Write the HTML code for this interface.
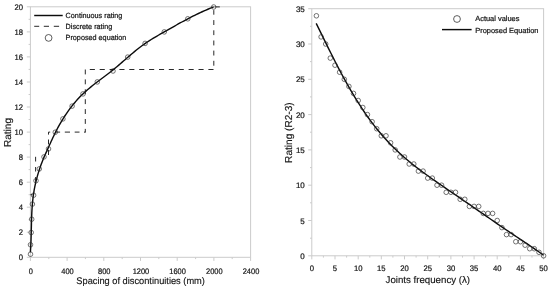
<!DOCTYPE html>
<html><head><meta charset="utf-8"><title>Rating charts</title>
<style>html,body{margin:0;padding:0;background:#fff}body{width:550px;height:290px;overflow:hidden}</style></head>
<body>
<svg width="550" height="290" viewBox="0 0 550 290" style="display:block">
<rect width="550" height="290" fill="#fff"/>
<g font-family="'Liberation Sans', sans-serif" fill="#161616" text-rendering="geometricPrecision">
<rect x="30.4" y="6.8" width="220.2" height="250.5" fill="none" stroke="#cbcbcb" stroke-width="1.0"/>
<line x1="30.4" y1="257.3" x2="30.4" y2="260.9" stroke="#cbcbcb" stroke-width="1.0"/>
<text transform="translate(30.8,274.1) scale(0.93,1)" font-size="8" text-anchor="middle" stroke="#161616" stroke-width="0.22">0</text>
<line x1="48.8" y1="257.3" x2="48.8" y2="259.1" stroke="#cbcbcb" stroke-width="1.0"/>
<line x1="67.1" y1="257.3" x2="67.1" y2="260.9" stroke="#cbcbcb" stroke-width="1.0"/>
<text transform="translate(67.5,274.1) scale(0.93,1)" font-size="8" text-anchor="middle" stroke="#161616" stroke-width="0.22">400</text>
<line x1="85.4" y1="257.3" x2="85.4" y2="259.1" stroke="#cbcbcb" stroke-width="1.0"/>
<line x1="103.8" y1="257.3" x2="103.8" y2="260.9" stroke="#cbcbcb" stroke-width="1.0"/>
<text transform="translate(104.2,274.1) scale(0.93,1)" font-size="8" text-anchor="middle" stroke="#161616" stroke-width="0.22">800</text>
<line x1="122.2" y1="257.3" x2="122.2" y2="259.1" stroke="#cbcbcb" stroke-width="1.0"/>
<line x1="140.5" y1="257.3" x2="140.5" y2="260.9" stroke="#cbcbcb" stroke-width="1.0"/>
<text transform="translate(140.9,274.1) scale(0.93,1)" font-size="8" text-anchor="middle" stroke="#161616" stroke-width="0.22">1200</text>
<line x1="158.8" y1="257.3" x2="158.8" y2="259.1" stroke="#cbcbcb" stroke-width="1.0"/>
<line x1="177.2" y1="257.3" x2="177.2" y2="260.9" stroke="#cbcbcb" stroke-width="1.0"/>
<text transform="translate(177.6,274.1) scale(0.93,1)" font-size="8" text-anchor="middle" stroke="#161616" stroke-width="0.22">1600</text>
<line x1="195.6" y1="257.3" x2="195.6" y2="259.1" stroke="#cbcbcb" stroke-width="1.0"/>
<line x1="213.9" y1="257.3" x2="213.9" y2="260.9" stroke="#cbcbcb" stroke-width="1.0"/>
<text transform="translate(214.3,274.1) scale(0.93,1)" font-size="8" text-anchor="middle" stroke="#161616" stroke-width="0.22">2000</text>
<line x1="232.2" y1="257.3" x2="232.2" y2="259.1" stroke="#cbcbcb" stroke-width="1.0"/>
<line x1="250.6" y1="257.3" x2="250.6" y2="260.9" stroke="#cbcbcb" stroke-width="1.0"/>
<text transform="translate(251.0,274.1) scale(0.93,1)" font-size="8" text-anchor="middle" stroke="#161616" stroke-width="0.22">2400</text>
<line x1="30.4" y1="257.3" x2="26.8" y2="257.3" stroke="#cbcbcb" stroke-width="1.0"/>
<text transform="translate(23.1,260.2) scale(0.955,1)" font-size="8" text-anchor="end" stroke="#161616" stroke-width="0.22">0</text>
<line x1="30.4" y1="244.8" x2="28.6" y2="244.8" stroke="#cbcbcb" stroke-width="1.0"/>
<line x1="30.4" y1="232.2" x2="26.8" y2="232.2" stroke="#cbcbcb" stroke-width="1.0"/>
<text transform="translate(23.1,235.2) scale(0.955,1)" font-size="8" text-anchor="end" stroke="#161616" stroke-width="0.22">2</text>
<line x1="30.4" y1="219.7" x2="28.6" y2="219.7" stroke="#cbcbcb" stroke-width="1.0"/>
<line x1="30.4" y1="207.2" x2="26.8" y2="207.2" stroke="#cbcbcb" stroke-width="1.0"/>
<text transform="translate(23.1,210.1) scale(0.955,1)" font-size="8" text-anchor="end" stroke="#161616" stroke-width="0.22">4</text>
<line x1="30.4" y1="194.7" x2="28.6" y2="194.7" stroke="#cbcbcb" stroke-width="1.0"/>
<line x1="30.4" y1="182.2" x2="26.8" y2="182.2" stroke="#cbcbcb" stroke-width="1.0"/>
<text transform="translate(23.1,185.1) scale(0.955,1)" font-size="8" text-anchor="end" stroke="#161616" stroke-width="0.22">6</text>
<line x1="30.4" y1="169.6" x2="28.6" y2="169.6" stroke="#cbcbcb" stroke-width="1.0"/>
<line x1="30.4" y1="157.1" x2="26.8" y2="157.1" stroke="#cbcbcb" stroke-width="1.0"/>
<text transform="translate(23.1,160.0) scale(0.955,1)" font-size="8" text-anchor="end" stroke="#161616" stroke-width="0.22">8</text>
<line x1="30.4" y1="144.6" x2="28.6" y2="144.6" stroke="#cbcbcb" stroke-width="1.0"/>
<line x1="30.4" y1="132.1" x2="26.8" y2="132.1" stroke="#cbcbcb" stroke-width="1.0"/>
<text transform="translate(23.1,135.0) scale(0.955,1)" font-size="8" text-anchor="end" stroke="#161616" stroke-width="0.22">10</text>
<line x1="30.4" y1="119.5" x2="28.6" y2="119.5" stroke="#cbcbcb" stroke-width="1.0"/>
<line x1="30.4" y1="107.0" x2="26.8" y2="107.0" stroke="#cbcbcb" stroke-width="1.0"/>
<text transform="translate(23.1,109.9) scale(0.955,1)" font-size="8" text-anchor="end" stroke="#161616" stroke-width="0.22">12</text>
<line x1="30.4" y1="94.5" x2="28.6" y2="94.5" stroke="#cbcbcb" stroke-width="1.0"/>
<line x1="30.4" y1="82.0" x2="26.8" y2="82.0" stroke="#cbcbcb" stroke-width="1.0"/>
<text transform="translate(23.1,84.9) scale(0.955,1)" font-size="8" text-anchor="end" stroke="#161616" stroke-width="0.22">14</text>
<line x1="30.4" y1="69.4" x2="28.6" y2="69.4" stroke="#cbcbcb" stroke-width="1.0"/>
<line x1="30.4" y1="56.9" x2="26.8" y2="56.9" stroke="#cbcbcb" stroke-width="1.0"/>
<text transform="translate(23.1,59.8) scale(0.955,1)" font-size="8" text-anchor="end" stroke="#161616" stroke-width="0.22">16</text>
<line x1="30.4" y1="44.4" x2="28.6" y2="44.4" stroke="#cbcbcb" stroke-width="1.0"/>
<line x1="30.4" y1="31.9" x2="26.8" y2="31.9" stroke="#cbcbcb" stroke-width="1.0"/>
<text transform="translate(23.1,34.8) scale(0.955,1)" font-size="8" text-anchor="end" stroke="#161616" stroke-width="0.22">18</text>
<line x1="30.4" y1="19.3" x2="28.6" y2="19.3" stroke="#cbcbcb" stroke-width="1.0"/>
<line x1="30.4" y1="6.8" x2="26.8" y2="6.8" stroke="#cbcbcb" stroke-width="1.0"/>
<text transform="translate(23.1,9.7) scale(0.955,1)" font-size="8" text-anchor="end" stroke="#161616" stroke-width="0.22">20</text>
<text transform="translate(140.6,283.9) scale(0.955,1)" font-size="9.7" text-anchor="middle" stroke="#161616" stroke-width="0.15">Spacing of discontinuities (mm)</text>
<text transform="translate(11.0,132.5) rotate(-90)" font-size="10.1" text-anchor="middle" stroke="#161616" stroke-width="0.15">Rating</text>
<path d="M213.8,10.1L213.8,14.7 M213.8,20.1L213.8,25.0 M213.8,30.3L213.8,35.1 M213.8,40.5L213.8,45.4 M213.8,50.6L213.8,55.5 M213.8,60.8L213.8,65.7 M89.8,69.5L94.9,69.5 M99.7,69.5L104.8,69.5 M109.6,69.5L114.7,69.5 M119.4,69.5L124.5,69.5 M129.3,69.5L134.4,69.5 M139.2,69.5L144.3,69.5 M149.1,69.5L154.2,69.5 M159.0,69.5L164.1,69.5 M168.8,69.5L173.9,69.5 M178.7,69.5L183.8,69.5 M188.6,69.5L193.7,69.5 M198.5,69.5L203.6,69.5 M208.4,69.5L213.5,69.5 M85.3,69.5L85.3,74.4 M85.3,79.4L85.3,84.3 M85.3,89.3L85.3,94.2 M85.3,99.2L85.3,104.1 M85.3,109.1L85.3,114.0 M85.3,119.0L85.3,123.9 M85.3,128.9L85.3,132.5 M84.0,132.1L85.3,132.1 M74.7,132.1L79.5,132.1 M64.8,132.1L70.0,132.1 M55.0,132.1L60.1,132.1 M48.5,132.1L50.2,132.1 M48.5,132.1L48.5,134.6 M48.5,139.5L48.5,144.4 M48.5,150.0L48.5,155.0 M35.6,156.8L35.6,161.5 M35.6,167.0L35.6,171.5 M35.6,177.0L35.6,181.5 M30.4,194.7L32.6,194.7 M214.6,6.9L219.8,6.9" fill="none" stroke="#1e1e1e" stroke-width="0.95"/>
<path d="M30.40,252.27 L30.51,250.22 L30.64,248.17 L30.76,246.11 L30.86,244.05 L30.95,241.98 L31.03,239.91 L31.09,237.84 L31.15,235.77 L31.21,233.69 L31.26,231.62 L31.30,229.54 L31.35,227.46 L31.40,225.38 L31.45,223.30 L31.50,221.22 L31.57,219.14 L31.64,217.06 L31.72,214.98 L31.81,212.90 L31.92,210.83 L32.04,208.76 L32.18,206.68 L32.34,204.62 L32.52,202.55 L32.73,200.49 L32.96,198.43 L33.21,196.38 L33.50,194.33 L33.81,192.28 L34.15,190.24 L34.53,188.21 L34.93,186.18 L35.36,184.16 L35.82,182.14 L36.31,180.13 L36.83,178.13 L37.37,176.13 L37.94,174.14 L38.54,172.16 L39.16,170.19 L39.82,168.23 L40.50,166.27 L41.20,164.33 L41.93,162.39 L42.69,160.46 L43.47,158.55 L44.27,156.64 L45.10,154.74 L45.95,152.85 L46.81,150.97 L47.67,149.09 L48.52,147.21 L49.38,145.32 L50.23,143.44 L51.09,141.56 L51.95,139.69 L52.83,137.81 L53.71,135.95 L54.61,134.08 L55.53,132.23 L56.47,130.38 L57.43,128.54 L58.42,126.71 L59.43,124.90 L60.45,123.09 L61.51,121.30 L62.58,119.52 L63.68,117.75 L64.81,116.00 L65.95,114.27 L67.12,112.55 L68.32,110.85 L69.54,109.17 L70.79,107.51 L72.06,105.88 L73.35,104.26 L74.68,102.67 L76.03,101.10 L77.40,99.56 L78.80,98.04 L80.23,96.55 L81.69,95.08 L83.17,93.65 L84.69,92.24 L86.22,90.86 L87.78,89.51 L89.36,88.17 L90.96,86.86 L92.58,85.56 L94.20,84.28 L95.84,83.01 L97.49,81.75 L99.15,80.49 L100.81,79.24 L102.47,78.00 L104.14,76.75 L105.80,75.49 L107.45,74.23 L109.10,72.97 L110.74,71.69 L112.37,70.40 L113.99,69.10 L115.59,67.78 L117.18,66.44 L118.76,65.10 L120.34,63.75 L121.91,62.40 L123.47,61.04 L125.04,59.68 L126.60,58.32 L128.16,56.97 L129.73,55.62 L131.31,54.28 L132.89,52.94 L134.48,51.62 L136.08,50.31 L137.69,49.02 L139.32,47.75 L140.96,46.50 L142.62,45.27 L144.30,44.07 L146.00,42.89 L147.73,41.74 L149.47,40.61 L151.22,39.51 L153.00,38.42 L154.78,37.35 L156.57,36.29 L158.37,35.25 L160.18,34.21 L161.99,33.18 L163.80,32.15 L165.61,31.12 L167.42,30.09 L169.22,29.07 L171.03,28.05 L172.83,27.03 L174.64,26.01 L176.45,25.00 L178.26,23.99 L180.07,22.99 L181.89,22.00 L183.71,21.01 L185.53,20.03 L187.36,19.06 L189.19,18.10 L191.03,17.16 L192.87,16.22 L194.72,15.29 L196.58,14.38 L198.44,13.49 L200.31,12.60 L202.19,11.74 L204.09,10.88 L205.99,10.05 L207.90,9.23 L209.82,8.43 L211.75,7.66 L213.70,6.90" fill="none" stroke="#0c0c0c" stroke-width="1.42" stroke-linejoin="round" stroke-linecap="butt"/>
<circle cx="30.5" cy="254.2" r="2.3" fill="none" stroke="#2a2a2a" stroke-width="0.65"/>
<circle cx="30.5" cy="244.8" r="2.3" fill="none" stroke="#2a2a2a" stroke-width="0.65"/>
<circle cx="31.2" cy="232.5" r="2.3" fill="none" stroke="#2a2a2a" stroke-width="0.65"/>
<circle cx="31.7" cy="219.2" r="2.3" fill="none" stroke="#2a2a2a" stroke-width="0.65"/>
<circle cx="32.4" cy="204.1" r="2.3" fill="none" stroke="#2a2a2a" stroke-width="0.65"/>
<circle cx="33.6" cy="195.2" r="2.3" fill="none" stroke="#2a2a2a" stroke-width="0.65"/>
<circle cx="36.0" cy="180.7" r="2.3" fill="none" stroke="#2a2a2a" stroke-width="0.65"/>
<circle cx="39.3" cy="168.9" r="2.3" fill="none" stroke="#2a2a2a" stroke-width="0.65"/>
<circle cx="44.0" cy="156.9" r="2.3" fill="none" stroke="#2a2a2a" stroke-width="0.65"/>
<circle cx="48.5" cy="148.9" r="2.3" fill="none" stroke="#2a2a2a" stroke-width="0.65"/>
<circle cx="55.3" cy="132.2" r="2.3" fill="none" stroke="#2a2a2a" stroke-width="0.65"/>
<circle cx="62.9" cy="118.9" r="2.3" fill="none" stroke="#2a2a2a" stroke-width="0.65"/>
<circle cx="72.1" cy="106.1" r="2.3" fill="none" stroke="#2a2a2a" stroke-width="0.65"/>
<circle cx="83.0" cy="93.9" r="2.3" fill="none" stroke="#2a2a2a" stroke-width="0.65"/>
<circle cx="97.3" cy="81.9" r="2.3" fill="none" stroke="#2a2a2a" stroke-width="0.65"/>
<circle cx="113.0" cy="71.0" r="2.3" fill="none" stroke="#2a2a2a" stroke-width="0.65"/>
<circle cx="127.7" cy="57.1" r="2.3" fill="none" stroke="#2a2a2a" stroke-width="0.65"/>
<circle cx="145.1" cy="43.4" r="2.3" fill="none" stroke="#2a2a2a" stroke-width="0.65"/>
<circle cx="164.3" cy="31.9" r="2.3" fill="none" stroke="#2a2a2a" stroke-width="0.65"/>
<circle cx="187.8" cy="18.8" r="2.3" fill="none" stroke="#2a2a2a" stroke-width="0.65"/>
<circle cx="213.7" cy="7.0" r="2.3" fill="none" stroke="#2a2a2a" stroke-width="0.65"/>
<line x1="34.2" y1="15.5" x2="62.7" y2="15.5" stroke="#0c0c0c" stroke-width="1.45"/>
<path d="M34.2,26.3H39.2M43.8,26.3H49M53.8,26.3H59.1" fill="none" stroke="#1e1e1e" stroke-width="0.95"/>
<circle cx="48.6" cy="37.9" r="3.4" fill="none" stroke="#2a2a2a" stroke-width="0.75"/>
<text transform="translate(65.6,18.2) scale(0.965,1)" font-size="7.5" text-anchor="start" stroke="#161616" stroke-width="0.22">Continuous rating</text>
<text transform="translate(65.6,29.0) scale(0.965,1)" font-size="7.5" text-anchor="start" stroke="#161616" stroke-width="0.22">Discrete rating</text>
<text transform="translate(65.6,40.4) scale(0.965,1)" font-size="7.5" text-anchor="start" stroke="#161616" stroke-width="0.22">Proposed equation</text>
<rect x="311.8" y="8.7" width="231.8" height="247.1" fill="none" stroke="#cbcbcb" stroke-width="1.0"/>
<line x1="311.8" y1="255.8" x2="311.8" y2="259.4" stroke="#cbcbcb" stroke-width="1.0"/>
<text transform="translate(311.8,271.4) scale(0.96,1)" font-size="8" text-anchor="middle" stroke="#161616" stroke-width="0.22">0</text>
<line x1="323.4" y1="255.8" x2="323.4" y2="257.6" stroke="#cbcbcb" stroke-width="1.0"/>
<line x1="335.0" y1="255.8" x2="335.0" y2="259.4" stroke="#cbcbcb" stroke-width="1.0"/>
<text transform="translate(335.0,271.4) scale(0.96,1)" font-size="8" text-anchor="middle" stroke="#161616" stroke-width="0.22">5</text>
<line x1="346.6" y1="255.8" x2="346.6" y2="257.6" stroke="#cbcbcb" stroke-width="1.0"/>
<line x1="358.2" y1="255.8" x2="358.2" y2="259.4" stroke="#cbcbcb" stroke-width="1.0"/>
<text transform="translate(358.2,271.4) scale(0.96,1)" font-size="8" text-anchor="middle" stroke="#161616" stroke-width="0.22">10</text>
<line x1="369.8" y1="255.8" x2="369.8" y2="257.6" stroke="#cbcbcb" stroke-width="1.0"/>
<line x1="381.3" y1="255.8" x2="381.3" y2="259.4" stroke="#cbcbcb" stroke-width="1.0"/>
<text transform="translate(381.3,271.4) scale(0.96,1)" font-size="8" text-anchor="middle" stroke="#161616" stroke-width="0.22">15</text>
<line x1="392.9" y1="255.8" x2="392.9" y2="257.6" stroke="#cbcbcb" stroke-width="1.0"/>
<line x1="404.5" y1="255.8" x2="404.5" y2="259.4" stroke="#cbcbcb" stroke-width="1.0"/>
<text transform="translate(404.5,271.4) scale(0.96,1)" font-size="8" text-anchor="middle" stroke="#161616" stroke-width="0.22">20</text>
<line x1="416.1" y1="255.8" x2="416.1" y2="257.6" stroke="#cbcbcb" stroke-width="1.0"/>
<line x1="427.7" y1="255.8" x2="427.7" y2="259.4" stroke="#cbcbcb" stroke-width="1.0"/>
<text transform="translate(427.7,271.4) scale(0.96,1)" font-size="8" text-anchor="middle" stroke="#161616" stroke-width="0.22">25</text>
<line x1="439.3" y1="255.8" x2="439.3" y2="257.6" stroke="#cbcbcb" stroke-width="1.0"/>
<line x1="450.9" y1="255.8" x2="450.9" y2="259.4" stroke="#cbcbcb" stroke-width="1.0"/>
<text transform="translate(450.9,271.4) scale(0.96,1)" font-size="8" text-anchor="middle" stroke="#161616" stroke-width="0.22">30</text>
<line x1="462.5" y1="255.8" x2="462.5" y2="257.6" stroke="#cbcbcb" stroke-width="1.0"/>
<line x1="474.1" y1="255.8" x2="474.1" y2="259.4" stroke="#cbcbcb" stroke-width="1.0"/>
<text transform="translate(474.1,271.4) scale(0.96,1)" font-size="8" text-anchor="middle" stroke="#161616" stroke-width="0.22">35</text>
<line x1="485.6" y1="255.8" x2="485.6" y2="257.6" stroke="#cbcbcb" stroke-width="1.0"/>
<line x1="497.2" y1="255.8" x2="497.2" y2="259.4" stroke="#cbcbcb" stroke-width="1.0"/>
<text transform="translate(497.2,271.4) scale(0.96,1)" font-size="8" text-anchor="middle" stroke="#161616" stroke-width="0.22">40</text>
<line x1="508.8" y1="255.8" x2="508.8" y2="257.6" stroke="#cbcbcb" stroke-width="1.0"/>
<line x1="520.4" y1="255.8" x2="520.4" y2="259.4" stroke="#cbcbcb" stroke-width="1.0"/>
<text transform="translate(520.4,271.4) scale(0.96,1)" font-size="8" text-anchor="middle" stroke="#161616" stroke-width="0.22">45</text>
<line x1="532.0" y1="255.8" x2="532.0" y2="257.6" stroke="#cbcbcb" stroke-width="1.0"/>
<line x1="543.6" y1="255.8" x2="543.6" y2="259.4" stroke="#cbcbcb" stroke-width="1.0"/>
<text transform="translate(543.6,271.4) scale(0.96,1)" font-size="8" text-anchor="middle" stroke="#161616" stroke-width="0.22">50</text>
<line x1="311.8" y1="255.8" x2="308.2" y2="255.8" stroke="#cbcbcb" stroke-width="1.0"/>
<text transform="translate(304.8,258.8)" font-size="8" text-anchor="end" stroke="#161616" stroke-width="0.22">0</text>
<line x1="311.8" y1="238.2" x2="310.0" y2="238.2" stroke="#cbcbcb" stroke-width="1.0"/>
<line x1="311.8" y1="220.5" x2="308.2" y2="220.5" stroke="#cbcbcb" stroke-width="1.0"/>
<text transform="translate(304.8,223.5)" font-size="8" text-anchor="end" stroke="#161616" stroke-width="0.22">5</text>
<line x1="311.8" y1="202.8" x2="310.0" y2="202.8" stroke="#cbcbcb" stroke-width="1.0"/>
<line x1="311.8" y1="185.2" x2="308.2" y2="185.2" stroke="#cbcbcb" stroke-width="1.0"/>
<text transform="translate(304.8,188.2)" font-size="8" text-anchor="end" stroke="#161616" stroke-width="0.22">10</text>
<line x1="311.8" y1="167.6" x2="310.0" y2="167.6" stroke="#cbcbcb" stroke-width="1.0"/>
<line x1="311.8" y1="149.9" x2="308.2" y2="149.9" stroke="#cbcbcb" stroke-width="1.0"/>
<text transform="translate(304.8,152.9)" font-size="8" text-anchor="end" stroke="#161616" stroke-width="0.22">15</text>
<line x1="311.8" y1="132.2" x2="310.0" y2="132.2" stroke="#cbcbcb" stroke-width="1.0"/>
<line x1="311.8" y1="114.6" x2="308.2" y2="114.6" stroke="#cbcbcb" stroke-width="1.0"/>
<text transform="translate(304.8,117.6)" font-size="8" text-anchor="end" stroke="#161616" stroke-width="0.22">20</text>
<line x1="311.8" y1="96.9" x2="310.0" y2="96.9" stroke="#cbcbcb" stroke-width="1.0"/>
<line x1="311.8" y1="79.3" x2="308.2" y2="79.3" stroke="#cbcbcb" stroke-width="1.0"/>
<text transform="translate(304.8,82.3)" font-size="8" text-anchor="end" stroke="#161616" stroke-width="0.22">25</text>
<line x1="311.8" y1="61.6" x2="310.0" y2="61.6" stroke="#cbcbcb" stroke-width="1.0"/>
<line x1="311.8" y1="44.0" x2="308.2" y2="44.0" stroke="#cbcbcb" stroke-width="1.0"/>
<text transform="translate(304.8,47.0)" font-size="8" text-anchor="end" stroke="#161616" stroke-width="0.22">30</text>
<line x1="311.8" y1="26.3" x2="310.0" y2="26.3" stroke="#cbcbcb" stroke-width="1.0"/>
<line x1="311.8" y1="8.7" x2="308.2" y2="8.7" stroke="#cbcbcb" stroke-width="1.0"/>
<text transform="translate(304.8,11.7)" font-size="8" text-anchor="end" stroke="#161616" stroke-width="0.22">35</text>
<text transform="translate(427.8,282.7)" font-size="9.7" text-anchor="middle" stroke="#161616" stroke-width="0.15">Joints frequency (λ)</text>
<text transform="translate(291.6,132.6) rotate(-90)" font-size="10.1" text-anchor="middle" stroke="#161616" stroke-width="0.15">Rating (R2-3)</text>
<path d="M316.20,23.42 L318.29,27.64 L320.38,31.88 L322.46,36.13 L324.55,40.38 L326.64,44.61 L328.72,48.82 L330.81,53.00 L332.89,57.15 L334.98,61.26 L337.07,65.31 L339.15,69.31 L341.24,73.25 L343.32,77.12 L345.41,80.93 L347.50,84.67 L349.58,88.33 L351.67,91.92 L353.76,95.43 L355.84,98.86 L357.93,102.21 L360.01,105.48 L362.10,108.66 L364.19,111.77 L366.27,114.79 L368.36,117.73 L370.45,120.60 L372.53,123.38 L374.62,126.09 L376.70,128.72 L378.79,131.28 L380.88,133.76 L382.96,136.18 L385.05,138.52 L387.13,140.81 L389.22,143.02 L391.31,145.18 L393.39,147.28 L395.48,149.32 L397.57,151.30 L399.65,153.24 L401.74,155.13 L403.82,156.97 L405.91,158.78 L408.00,160.54 L410.08,162.26 L412.17,163.95 L414.26,165.61 L416.34,167.23 L418.43,168.83 L420.51,170.41 L422.60,171.96 L424.69,173.49 L426.77,175.01 L428.86,176.50 L430.95,177.99 L433.03,179.46 L435.12,180.92 L437.20,182.37 L439.29,183.82 L441.38,185.25 L443.46,186.69 L445.55,188.12 L447.63,189.55 L449.72,190.97 L451.81,192.40 L453.89,193.82 L455.98,195.25 L458.07,196.68 L460.15,198.11 L462.24,199.54 L464.32,200.97 L466.41,202.41 L468.50,203.84 L470.58,205.28 L472.67,206.73 L474.76,208.17 L476.84,209.61 L478.93,211.06 L481.01,212.51 L483.10,213.95 L485.19,215.40 L487.27,216.84 L489.36,218.29 L491.45,219.73 L493.53,221.17 L495.62,222.61 L497.70,224.04 L499.79,225.47 L501.88,226.90 L503.96,228.32 L506.05,229.74 L508.13,231.15 L510.22,232.56 L512.31,233.96 L514.39,235.36 L516.48,236.76 L518.57,238.15 L520.65,239.54 L522.74,240.93 L524.82,242.32 L526.91,243.71 L529.00,245.11 L531.08,246.51 L533.17,247.92 L535.26,249.35 L537.34,250.79 L539.43,252.24 L541.51,253.72 L543.60,255.23" fill="none" stroke="#0c0c0c" stroke-width="1.42" stroke-linejoin="round"/>
<circle cx="316.4" cy="15.8" r="2.3" fill="none" stroke="#2a2a2a" stroke-width="0.65"/>
<circle cx="321.1" cy="36.9" r="2.3" fill="none" stroke="#2a2a2a" stroke-width="0.65"/>
<circle cx="325.7" cy="44.0" r="2.3" fill="none" stroke="#2a2a2a" stroke-width="0.65"/>
<circle cx="330.3" cy="58.1" r="2.3" fill="none" stroke="#2a2a2a" stroke-width="0.65"/>
<circle cx="335.0" cy="65.2" r="2.3" fill="none" stroke="#2a2a2a" stroke-width="0.65"/>
<circle cx="339.6" cy="72.2" r="2.3" fill="none" stroke="#2a2a2a" stroke-width="0.65"/>
<circle cx="344.3" cy="79.3" r="2.3" fill="none" stroke="#2a2a2a" stroke-width="0.65"/>
<circle cx="348.9" cy="86.4" r="2.3" fill="none" stroke="#2a2a2a" stroke-width="0.65"/>
<circle cx="353.5" cy="93.4" r="2.3" fill="none" stroke="#2a2a2a" stroke-width="0.65"/>
<circle cx="358.2" cy="100.5" r="2.3" fill="none" stroke="#2a2a2a" stroke-width="0.65"/>
<circle cx="362.8" cy="107.5" r="2.3" fill="none" stroke="#2a2a2a" stroke-width="0.65"/>
<circle cx="367.4" cy="114.6" r="2.3" fill="none" stroke="#2a2a2a" stroke-width="0.65"/>
<circle cx="372.1" cy="121.7" r="2.3" fill="none" stroke="#2a2a2a" stroke-width="0.65"/>
<circle cx="376.7" cy="128.7" r="2.3" fill="none" stroke="#2a2a2a" stroke-width="0.65"/>
<circle cx="381.3" cy="135.8" r="2.3" fill="none" stroke="#2a2a2a" stroke-width="0.65"/>
<circle cx="386.0" cy="135.8" r="2.3" fill="none" stroke="#2a2a2a" stroke-width="0.65"/>
<circle cx="390.6" cy="142.8" r="2.3" fill="none" stroke="#2a2a2a" stroke-width="0.65"/>
<circle cx="395.2" cy="149.9" r="2.3" fill="none" stroke="#2a2a2a" stroke-width="0.65"/>
<circle cx="399.9" cy="157.0" r="2.3" fill="none" stroke="#2a2a2a" stroke-width="0.65"/>
<circle cx="404.5" cy="157.0" r="2.3" fill="none" stroke="#2a2a2a" stroke-width="0.65"/>
<circle cx="409.2" cy="164.0" r="2.3" fill="none" stroke="#2a2a2a" stroke-width="0.65"/>
<circle cx="413.8" cy="164.0" r="2.3" fill="none" stroke="#2a2a2a" stroke-width="0.65"/>
<circle cx="418.4" cy="171.1" r="2.3" fill="none" stroke="#2a2a2a" stroke-width="0.65"/>
<circle cx="423.1" cy="171.1" r="2.3" fill="none" stroke="#2a2a2a" stroke-width="0.65"/>
<circle cx="427.7" cy="178.1" r="2.3" fill="none" stroke="#2a2a2a" stroke-width="0.65"/>
<circle cx="432.3" cy="178.1" r="2.3" fill="none" stroke="#2a2a2a" stroke-width="0.65"/>
<circle cx="437.0" cy="185.2" r="2.3" fill="none" stroke="#2a2a2a" stroke-width="0.65"/>
<circle cx="441.6" cy="185.2" r="2.3" fill="none" stroke="#2a2a2a" stroke-width="0.65"/>
<circle cx="446.2" cy="192.3" r="2.3" fill="none" stroke="#2a2a2a" stroke-width="0.65"/>
<circle cx="450.9" cy="192.3" r="2.3" fill="none" stroke="#2a2a2a" stroke-width="0.65"/>
<circle cx="455.5" cy="192.3" r="2.3" fill="none" stroke="#2a2a2a" stroke-width="0.65"/>
<circle cx="460.2" cy="199.3" r="2.3" fill="none" stroke="#2a2a2a" stroke-width="0.65"/>
<circle cx="464.8" cy="199.3" r="2.3" fill="none" stroke="#2a2a2a" stroke-width="0.65"/>
<circle cx="469.4" cy="206.4" r="2.3" fill="none" stroke="#2a2a2a" stroke-width="0.65"/>
<circle cx="474.1" cy="206.4" r="2.3" fill="none" stroke="#2a2a2a" stroke-width="0.65"/>
<circle cx="478.7" cy="206.4" r="2.3" fill="none" stroke="#2a2a2a" stroke-width="0.65"/>
<circle cx="483.3" cy="213.4" r="2.3" fill="none" stroke="#2a2a2a" stroke-width="0.65"/>
<circle cx="488.0" cy="213.4" r="2.3" fill="none" stroke="#2a2a2a" stroke-width="0.65"/>
<circle cx="492.6" cy="213.4" r="2.3" fill="none" stroke="#2a2a2a" stroke-width="0.65"/>
<circle cx="497.2" cy="220.5" r="2.3" fill="none" stroke="#2a2a2a" stroke-width="0.65"/>
<circle cx="501.9" cy="227.6" r="2.3" fill="none" stroke="#2a2a2a" stroke-width="0.65"/>
<circle cx="506.5" cy="234.6" r="2.3" fill="none" stroke="#2a2a2a" stroke-width="0.65"/>
<circle cx="511.1" cy="234.6" r="2.3" fill="none" stroke="#2a2a2a" stroke-width="0.65"/>
<circle cx="515.8" cy="241.7" r="2.3" fill="none" stroke="#2a2a2a" stroke-width="0.65"/>
<circle cx="520.4" cy="241.7" r="2.3" fill="none" stroke="#2a2a2a" stroke-width="0.65"/>
<circle cx="525.1" cy="245.2" r="2.3" fill="none" stroke="#2a2a2a" stroke-width="0.65"/>
<circle cx="529.7" cy="248.7" r="2.3" fill="none" stroke="#2a2a2a" stroke-width="0.65"/>
<circle cx="534.3" cy="248.7" r="2.3" fill="none" stroke="#2a2a2a" stroke-width="0.65"/>
<circle cx="539.0" cy="252.3" r="2.3" fill="none" stroke="#2a2a2a" stroke-width="0.65"/>
<circle cx="543.6" cy="255.8" r="2.3" fill="none" stroke="#2a2a2a" stroke-width="0.65"/>
<circle cx="457" cy="19" r="3.4" fill="none" stroke="#2a2a2a" stroke-width="0.75"/>
<line x1="442" y1="29.6" x2="471.6" y2="29.6" stroke="#0c0c0c" stroke-width="1.45"/>
<text transform="translate(475.2,21.4)" font-size="7.45" text-anchor="start" stroke="#161616" stroke-width="0.22">Actual values</text>
<text transform="translate(475.2,32.6)" font-size="7.45" text-anchor="start" stroke="#161616" stroke-width="0.22">Proposed Equation</text>
</g></svg>
</body></html>
